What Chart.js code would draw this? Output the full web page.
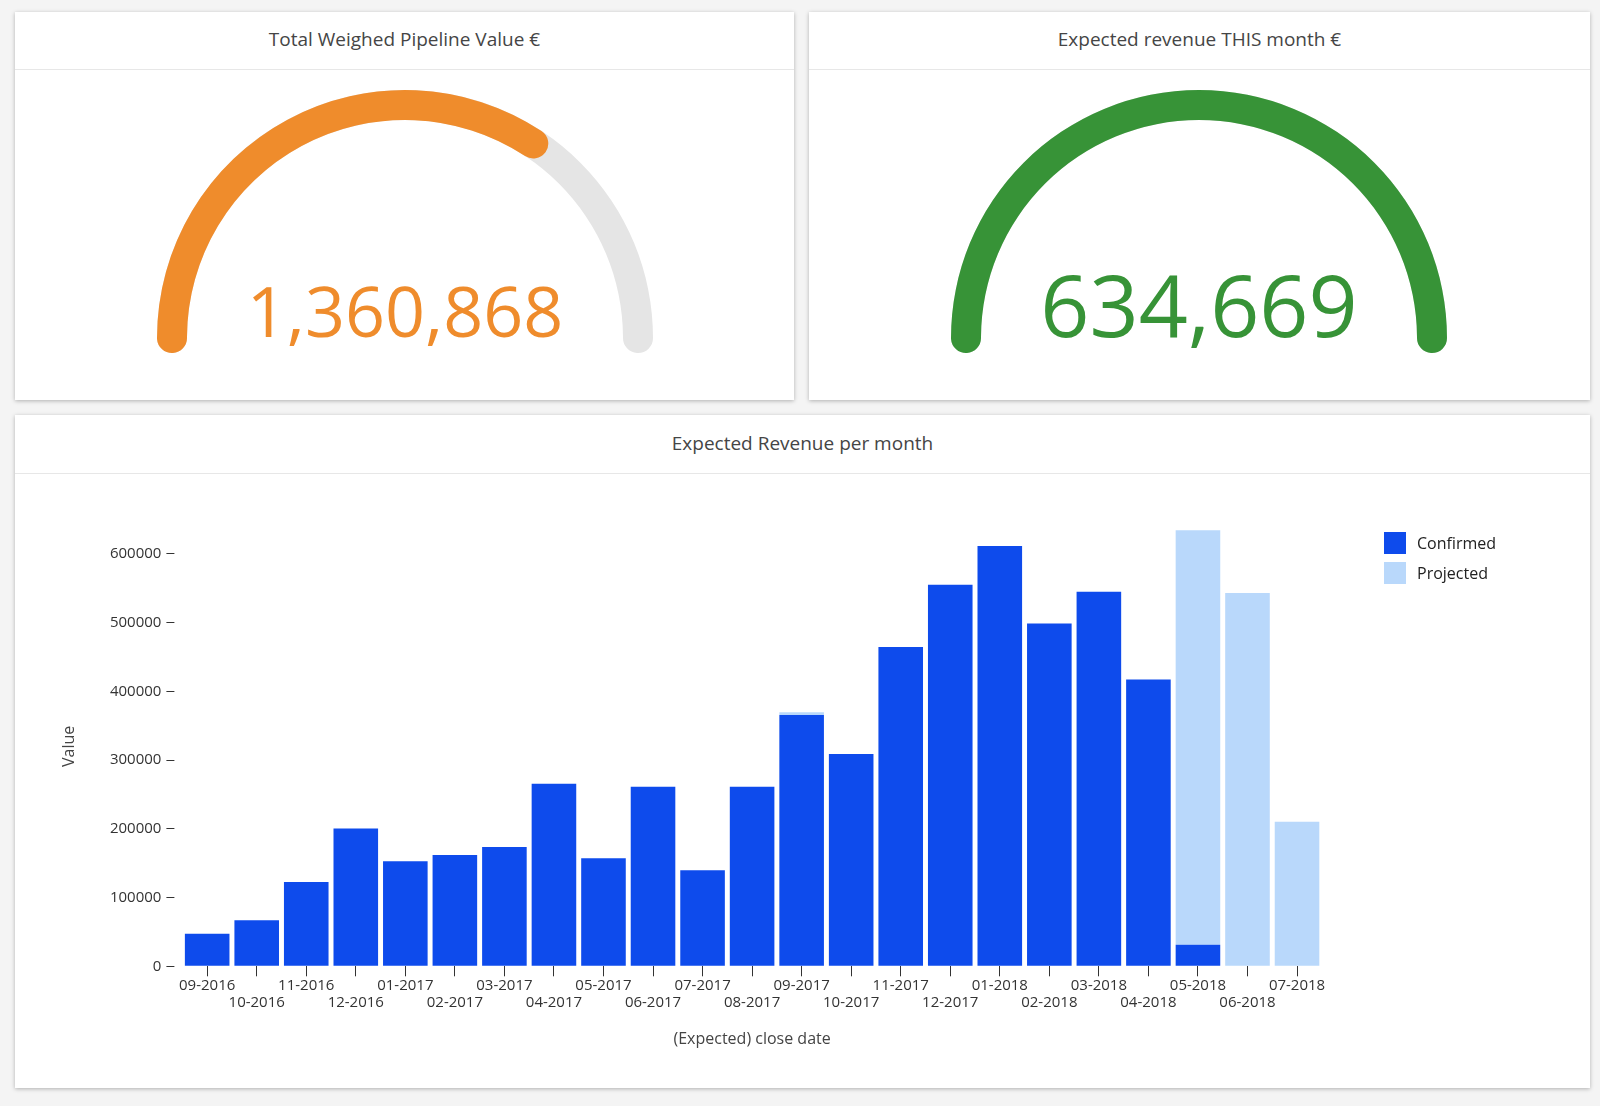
<!DOCTYPE html>
<html>
<head>
<meta charset="utf-8">
<script src="https://cdn.jsdelivr.net/npm/chart.js@4.4.0/dist/chart.umd.min.js"></script>
<style>
  html, body { margin: 0; padding: 0; }
  body { width: 1600px; height: 1106px; background: #f4f4f4; position: relative; overflow: hidden; font-family: 'Open Sans', sans-serif; }
  .card { position: absolute; background: #fff; box-shadow: 0 1px 4px rgba(0,0,0,0.28); }
  .hdr { position: absolute; left: 0; right: 0; top: 0; border-bottom: 1px solid #e7e7e7; text-align: center; font-size: 19px; color: #454545; white-space: nowrap; }
  .num { position: absolute; line-height: 1; white-space: nowrap; transform: translateX(-50%); font-family: 'Open Sans', sans-serif; }
  canvas { position: absolute; }
  #legend { position: absolute; left: 1384px; top: 532px; font-size: 16px; color: #222; }
  #legend .item { position: relative; height: 22px; margin-bottom: 7.5px; }
  #legend .sw { position: absolute; left: 0; top: 0; width: 22px; height: 22px; }
  #legend .tx { position: absolute; left: 33px; top: 0; line-height: 22px; white-space: nowrap; }
</style>
</head>
<body>
<div class="card" style="left:15px;top:12px;width:779px;height:388px;">
  <div class="hdr" id="t0" style="height:57px;line-height:54px;"></div>
</div>
<div class="card" style="left:809px;top:12px;width:781px;height:388px;">
  <div class="hdr" id="t1" style="height:57px;line-height:54px;"></div>
</div>
<div class="card" style="left:15px;top:415px;width:1575px;height:673px;">
  <div class="hdr" id="t2" style="height:58px;line-height:57px;"></div>
</div>

<canvas id="g0track" width="540" height="300" style="left:135px;top:72px;"></canvas>
<canvas id="g0value" width="540" height="300" style="left:135px;top:72px;"></canvas>
<canvas id="g1track" width="540" height="300" style="left:929px;top:72px;"></canvas>
<canvas id="g1value" width="540" height="300" style="left:929px;top:72px;"></canvas>
<div class="num" id="n0" style="left:405px;top:275px;font-size:70px;color:#ef8c2c;"></div>
<div class="num" id="n1" style="left:1199px;top:261px;font-size:86px;color:#379337;"></div>

<canvas id="bars" width="1575" height="614" style="left:15px;top:474px;"></canvas>
<div id="legend"></div>

<script>
// ---------- data ----------
const gaugeTitles = ['Total Weighed Pipeline Value €', 'Expected revenue THIS month €'];
const gaugeValues = [1360868, 634669];
const gaugeMaxima = [1985000, 634669];

const chartTitle = 'Expected Revenue per month';
const months = ['09-2016','10-2016','11-2016','12-2016','01-2017','02-2017','03-2017','04-2017',
  '05-2017','06-2017','07-2017','08-2017','09-2017','10-2017','11-2017','12-2017',
  '01-2018','02-2018','03-2018','04-2018','05-2018','06-2018','07-2018'];
const confirmed = [47500, 66900, 122500, 200500, 152900, 161900, 173700, 265800,
  157400, 261300, 139600, 261300, 365700, 308900, 464800, 555400,
  611800, 498900, 545000, 417300, 31500, 0, 0];
const projected = [0, 0, 0, 0, 0, 0, 0, 0,
  0, 0, 0, 0, 4000, 0, 0, 0,
  0, 0, 0, 0, 603169, 543200, 210499];
const seriesNames = ['Confirmed', 'Projected'];
const yTickValues = [0, 100000, 200000, 300000, 400000, 500000, 600000];
const xAxisTitle = '(Expected) close date';
const yAxisTitle = 'Value';

// ---------- styles ----------
const gaugeColors = ['#ef8c2c', '#379337'];
const trackColor = '#e5e5e5';
const seriesColors = ['#0e4bec', '#b9d8fb'];

Chart.defaults.font.family = "'Open Sans', sans-serif";
Chart.defaults.animation = false;

document.getElementById('t0').textContent = gaugeTitles[0];
document.getElementById('t1').textContent = gaugeTitles[1];
document.getElementById('t2').textContent = chartTitle;

// ---------- gauges ----------
const outerR = 248, thick = 30;
const capDeg = (thick / 2) / (outerR - thick / 2) * 180 / Math.PI;
const cutoutPct = ((outerR - thick) / outerR * 100) + '%';

function gaugeOpts() {
  return {
    responsive: false,
    rotation: -90 - capDeg,
    circumference: 180 + 2 * capDeg,
    cutout: cutoutPct,
    radius: outerR,
    events: [],
    layout: { padding: 0 },
    plugins: { legend: { display: false }, tooltip: { enabled: false } }
  };
}
function makeGauge(i) {
  const max = gaugeMaxima[i], val = Math.min(gaugeValues[i], max);
  const capData = max * (2 * capDeg) / 180;
  new Chart(document.getElementById('g' + i + 'track'), {
    type: 'doughnut',
    data: { datasets: [{ data: [max], backgroundColor: [trackColor], borderWidth: 0, borderRadius: thick / 2 }] },
    options: gaugeOpts()
  });
  new Chart(document.getElementById('g' + i + 'value'), {
    type: 'doughnut',
    data: { datasets: [{ data: [val + capData, max - val], backgroundColor: [gaugeColors[i], 'rgba(0,0,0,0)'], borderWidth: 0, borderRadius: thick / 2 }] },
    options: gaugeOpts()
  });
  document.getElementById('n' + i).textContent = gaugeValues[i].toLocaleString('en-US');
}
makeGauge(0);
makeGauge(1);

// ---------- bar chart ----------
const barChart = new Chart(document.getElementById('bars'), {
  type: 'bar',
  data: {
    labels: months,
    datasets: [
      { label: seriesNames[0], data: confirmed, backgroundColor: seriesColors[0], borderWidth: 0 },
      { label: seriesNames[1], data: projected, backgroundColor: seriesColors[1], borderWidth: 0 }
    ]
  },
  options: {
    responsive: false,
    events: [],
    barPercentage: 0.9,
    categoryPercentage: 1.0,
    layout: { padding: { left: 0, right: 268.2, top: 52.5, bottom: 0 } },
    plugins: { legend: { display: false }, tooltip: { enabled: false } },
    scales: {
      x: {
        stacked: true,
        offset: true,
        border: { display: false },
        grid: { display: true, offset: false, drawOnChartArea: false, drawTicks: true, tickLength: 10, tickColor: '#333', tickWidth: 1 },
        ticks: {
          autoSkip: false, maxRotation: 0, minRotation: 0, padding: 1.2,
          color: '#333', font: { size: 15, lineHeight: 17 / 15 },
          callback: function (v, i) { const l = this.getLabelForValue(v); return i % 2 ? ['', l] : l; }
        },
        title: { display: true, text: xAxisTitle, color: '#444', font: { size: 16, lineHeight: 1.2 }, padding: { top: 0, bottom: 39.4 } },
        afterFit: (s) => { s.height = 121.7; }
      },
      y: {
        stacked: true,
        min: 0,
        max: 640000,
        border: { display: false },
        grid: { display: true, drawOnChartArea: false, drawTicks: true, tickLength: 16, tickBorderDash: [8, 8], tickColor: '#333', tickWidth: 1 },
        ticks: { padding: 5, color: '#333', font: { size: 15 }, callback: (v) => String(v) },
        afterBuildTicks: (s) => { s.ticks = yTickValues.map(v => ({ value: v })); },
        title: { display: true, text: yAxisTitle, color: '#444', font: { size: 16, lineHeight: 1.2 }, padding: { top: 44.4, bottom: 0 } },
        afterFit: (s) => { s.width = 167.4; }
      }
    }
  }
});

// legend built from the chart's datasets
const lg = document.getElementById('legend');
barChart.data.datasets.forEach(ds => {
  const it = document.createElement('div'); it.className = 'item';
  const sw = document.createElement('div'); sw.className = 'sw'; sw.style.background = ds.backgroundColor;
  const tx = document.createElement('div'); tx.className = 'tx'; tx.textContent = ds.label;
  it.appendChild(sw); it.appendChild(tx); lg.appendChild(it);
});
</script>
</body>
</html>
